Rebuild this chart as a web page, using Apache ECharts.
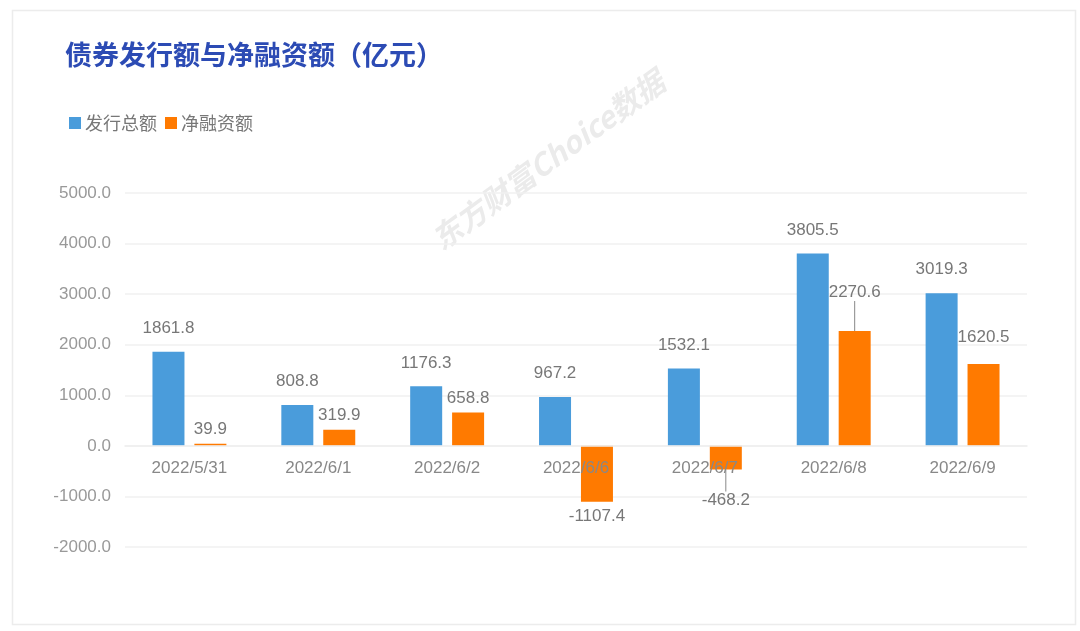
<!DOCTYPE html>
<html>
<head>
<meta charset="utf-8">
<script src="https://cdn.jsdelivr.net/npm/echarts@6/dist/echarts.min.js"></script>
<style>
  html, body { margin: 0; padding: 0; background: #fff; }
  #chart { width: 1080px; height: 631px; }
</style>
</head>
<body>
<div id="chart"></div>
<script>
const categories = ['2022/5/31', '2022/6/1', '2022/6/2', '2022/6/6', '2022/6/7', '2022/6/8', '2022/6/9'];
const issueTotal = [1861.8, 808.8, 1176.3, 967.2, 1532.1, 3805.5, 3019.3];
const netFinancing = [39.9, 319.9, 658.8, -1107.4, -468.2, 2270.6, 1620.5];
const yTicks = { min: -2000, max: 5000, interval: 1000 };

const numFont = 'Helvetica, Arial, "Liberation Sans", "Noto Sans CJK SC", sans-serif';
const cjkFont = '"PingFang SC", "Noto Sans CJK SC", sans-serif';

// labels moved away from their bar; some keep a short leader line
const labelShift = { 4: 16, 5: -24, 6: -12 };
const leaderLine = { 4: true, 5: true };

const toItems = (vals, withLines) => vals.map((v, i) => ({
  value: v,
  label: { position: v < 0 ? 'bottom' : 'top' },
  labelLine: { show: !!(withLines && leaderLine[i]) }
}));

const chart = echarts.init(document.getElementById('chart'));
chart.setOption({
  animation: false,
  backgroundColor: '#fff',
  graphic: [
    {
      type: 'rect', left: 10, top: 8, silent: true,
      shape: { width: 1063, height: 614 },
      style: { fill: 'none', stroke: '#ececec', lineWidth: 1.5 }
    },
    {
      type: 'text', x: 548, y: 160, rotation: 36 * Math.PI / 180, silent: true,
      style: {
        text: '东方财富Choice数据', fill: '#ebebeb', align: 'center', verticalAlign: 'middle',
        font: 'italic bold 30px ' + cjkFont
      }
    }
  ],
  title: {
    text: '债券发行额与净融资额（亿元）',
    left: 60, top: 36,
    textStyle: { color: '#2c4bb4', fontSize: 27, fontWeight: 'bold', fontFamily: cjkFont }
  },
  legend: {
    left: 64, top: 109,
    icon: 'rect', itemWidth: 12, itemHeight: 12, itemGap: 8,
    textStyle: { color: '#777', fontSize: 18, fontFamily: cjkFont, padding: [0, 0, 0, -1] },
    data: ['发行总额', '净融资额']
  },
  grid: { left: 125, right: 53, top: 193, bottom: 84 },
  xAxis: {
    type: 'category',
    data: categories,
    offset: -101,
    z: 5,
    axisLine: { onZero: false, lineStyle: { color: '#eeeeee', width: 1.5 } },
    axisTick: { show: false },
    axisLabel: { color: '#888', fontSize: 17, margin: 14, fontFamily: numFont }
  },
  yAxis: {
    type: 'value',
    min: yTicks.min, max: yTicks.max, interval: yTicks.interval,
    axisLine: { show: false },
    axisTick: { show: false },
    splitLine: { lineStyle: { color: '#f0f0f0', width: 1.5 } },
    axisLabel: {
      color: '#999', fontSize: 17, margin: 14, fontFamily: numFont,
      formatter: v => v.toFixed(1)
    }
  },
  series: [
    {
      name: '发行总额', type: 'bar',
      data: toItems(issueTotal, false),
      barWidth: 32, barGap: '31%',
      itemStyle: { color: '#4a9cdb' },
      label: {
        show: true, distance: 15, color: '#777', fontSize: 17, fontFamily: numFont,
        formatter: p => p.value.toFixed(1)
      }
    },
    {
      name: '净融资额', type: 'bar',
      data: toItems(netFinancing, true),
      barWidth: 32,
      itemStyle: { color: '#ff7a00' },
      label: {
        show: true, distance: 6, color: '#777', fontSize: 17, fontFamily: numFont,
        formatter: p => p.value.toFixed(1)
      },
      labelLine: { lineStyle: { color: '#888', width: 1 } },
      labelLayout: p => (labelShift[p.dataIndex] ? { dy: labelShift[p.dataIndex] } : {})
    }
  ]
});
</script>
</body>
</html>
